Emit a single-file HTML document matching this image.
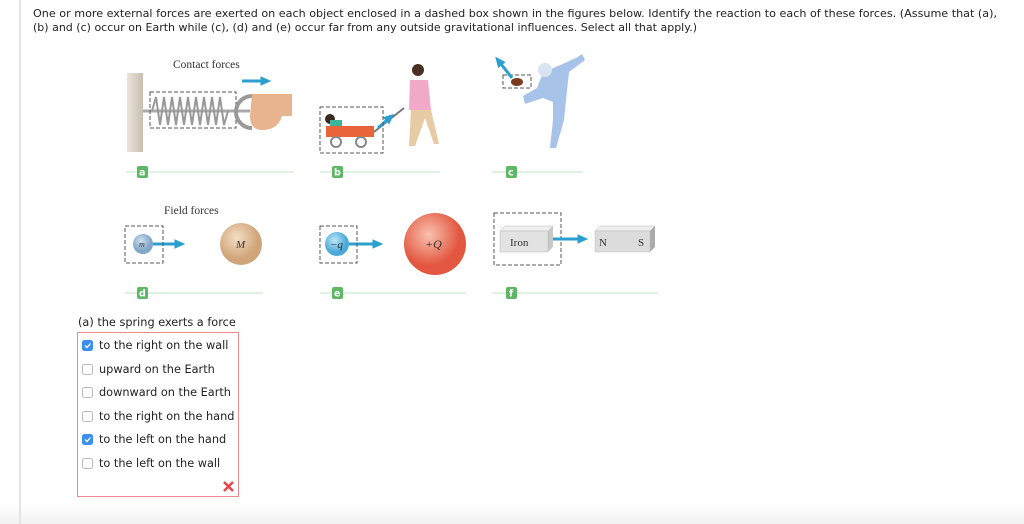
<!DOCTYPE html>
<html><head><meta charset="utf-8"><style>
html,body{margin:0;padding:0;background:#fff;width:1024px;height:524px;overflow:hidden}
svg{display:block}
.t{font-family:"DejaVu Sans","Liberation Sans",sans-serif;font-size:11px;fill:#222}
.q{font-size:11.3px}
.s{font-family:"Liberation Serif",serif;fill:#333}
.lab{font-family:"DejaVu Sans",sans-serif;font-size:9.5px;fill:#fff;font-weight:bold}
</style></head><body>
<svg width="1024" height="524" viewBox="0 0 1024 524" xmlns="http://www.w3.org/2000/svg">
<defs>
<marker id="ah" markerWidth="3.6" markerHeight="3.2" refX="0.5" refY="1.6" orient="auto" markerUnits="strokeWidth"><path d="M0,0 L3.6,1.6 L0,3.2 z" fill="#2a9fd0"/></marker>
<radialGradient id="gm" cx="40%" cy="35%"><stop offset="0" stop-color="#cfe0ee"/><stop offset="1" stop-color="#7fa6c8"/></radialGradient>
<radialGradient id="gM" cx="40%" cy="35%"><stop offset="0" stop-color="#f3dfc6"/><stop offset="1" stop-color="#d1a57a"/></radialGradient>
<radialGradient id="gq" cx="40%" cy="35%"><stop offset="0" stop-color="#bfe6f6"/><stop offset="1" stop-color="#4aa9d9"/></radialGradient>
<radialGradient id="gQ" cx="40%" cy="35%"><stop offset="0" stop-color="#f8c2b0"/><stop offset="1" stop-color="#e3563f"/></radialGradient>
<linearGradient id="gw" x1="0" x2="1"><stop offset="0" stop-color="#ece4da"/><stop offset="1" stop-color="#c8beb2"/></linearGradient>
<linearGradient id="gb" x1="0" y1="0" x2="0" y2="1"><stop offset="0" stop-color="#fff"/><stop offset="1" stop-color="#f1f1f1"/></linearGradient>
</defs>
<rect x="0" y="505" width="1024" height="19" fill="url(#gb)"/>
<rect x="19" y="0" width="2" height="524" fill="#e4e4e4"/>
<text class="t" x="33" y="17" textLength="964" lengthAdjust="spacingAndGlyphs">One or more external forces are exerted on each object enclosed in a dashed box shown in the figures below. Identify the reaction to each of these forces. (Assume that (a),</text>
<text class="t" x="33" y="31" textLength="664" lengthAdjust="spacingAndGlyphs">(b) and (c) occur on Earth while (c), (d) and (e) occur far from any outside gravitational influences. Select all that apply.)</text>

<text class="s" x="173" y="68" font-size="11.5">Contact forces</text>
<!-- a -->
<rect x="127" y="73" width="16" height="79" fill="url(#gw)"/>
<line x1="143" y1="111" x2="250" y2="111" stroke="#aaa" stroke-width="3"/>
<path d="M152,111 l4,-14 l4,28 l4,-28 l4,28 l4,-28 l4,28 l4,-28 l4,28 l4,-28 l4,28 l4,-28 l4,28 l4,-28 l4,28 l4,-28 l4,28 l4,-28 l4,28 l4,-14" fill="none" stroke="#999" stroke-width="2"/>
<rect x="150" y="92" width="86" height="36" fill="none" stroke="#555" stroke-dasharray="4,2"/>
<path d="M252,96 a16,16 0 0 0 0,32" fill="none" stroke="#999" stroke-width="4"/>
<path d="M252,94 h40 v22 h-10 q-4,14 -20,14 q-12,0 -12,-14 z" fill="#e8b48e"/>
<line x1="242" y1="81" x2="262" y2="81" stroke="#2a9fd0" stroke-width="3" marker-end="url(#ah)"/>
<line x1="126" y1="172" x2="294" y2="172" stroke="#bfe3c3"/>
<rect x="137" y="166" width="11" height="12" rx="2" fill="#5db764"/><text class="lab" x="139" y="175.5">a</text>
<!-- b -->
<rect x="326" y="126" width="48" height="11" fill="#e9643a"/>
<circle cx="336" cy="142" r="5" fill="#fff" stroke="#888" stroke-width="2"/>
<circle cx="361" cy="142" r="5" fill="#fff" stroke="#888" stroke-width="2"/>
<circle cx="330" cy="119" r="5" fill="#3a2a20"/><rect x="330" y="120" width="12" height="6" fill="#3db59a"/>
<line x1="374" y1="132" x2="404" y2="108" stroke="#777" stroke-width="2"/>
<line x1="378" y1="128" x2="387" y2="120" stroke="#2a9fd0" stroke-width="3" marker-end="url(#ah)"/>
<rect x="320" y="107" width="63" height="46" fill="none" stroke="#555" stroke-dasharray="4,2"/>
<circle cx="418" cy="70" r="6" fill="#4a3020"/>
<path d="M410,80 h18 l3,30 h-22 z" fill="#f0a9c6"/>
<path d="M411,110 h20 l8,34 h-5 l-9,-26 l-10,28 h-6 z" fill="#e7cba4"/>
<line x1="320" y1="172" x2="440" y2="172" stroke="#bfe3c3"/>
<rect x="332" y="166" width="11" height="12" rx="2" fill="#5db764"/><text class="lab" x="334" y="175.5">b</text>
<!-- c -->
<path d="M540,80 l4,-8 l14,-6 l18,-8 l6,-4 l3,6 l-16,12 l-3,28 l-2,20 l-8,28 h-6 l3,-28 l0,-18 l-10,-4 l-18,6 l-2,-8 l14,-8 z" fill="#a7c3ea"/>
<circle cx="545" cy="70" r="7" fill="#d8e4f2"/>
<ellipse cx="517" cy="82" rx="6" ry="4" fill="#7a3b1e"/>
<rect x="503" y="75" width="28" height="13" fill="none" stroke="#555" stroke-dasharray="4,2"/>
<line x1="512" y1="78" x2="501" y2="64" stroke="#2a9fd0" stroke-width="3" marker-end="url(#ah)"/>
<line x1="492" y1="172" x2="583" y2="172" stroke="#bfe3c3"/>
<rect x="506" y="166" width="11" height="12" rx="2" fill="#5db764"/><text class="lab" x="508" y="175.5">c</text>

<text class="s" x="164" y="214" font-size="11.5">Field forces</text>
<!-- d -->
<circle cx="143" cy="244" r="10" fill="url(#gm)"/><text class="s" x="139" y="247" font-size="8" font-style="italic">m</text>
<line x1="153" y1="244" x2="176" y2="244" stroke="#2a9fd0" stroke-width="3" marker-end="url(#ah)"/>
<rect x="125" y="226" width="38" height="37" fill="none" stroke="#555" stroke-dasharray="4,2"/>
<circle cx="241" cy="244" r="21" fill="url(#gM)"/><text class="s" x="236" y="248" font-size="11" font-style="italic">M</text>
<line x1="125" y1="293" x2="263" y2="293" stroke="#bfe3c3"/>
<rect x="137" y="287" width="11" height="12" rx="2" fill="#5db764"/><text class="lab" x="139" y="296.5">d</text>
<!-- e -->
<circle cx="337" cy="244" r="12" fill="url(#gq)"/><text class="s" x="330" y="248" font-size="11" font-style="italic">−q</text>
<line x1="349" y1="244" x2="374" y2="244" stroke="#2a9fd0" stroke-width="3" marker-end="url(#ah)"/>
<rect x="320" y="226" width="37" height="37" fill="none" stroke="#555" stroke-dasharray="4,2"/>
<circle cx="435" cy="244" r="31" fill="url(#gQ)"/><text class="s" x="425" y="248" font-size="12" font-style="italic">+Q</text>
<line x1="320" y1="293" x2="466" y2="293" stroke="#bfe3c3"/>
<rect x="332" y="287" width="11" height="12" rx="2" fill="#5db764"/><text class="lab" x="334" y="296.5">e</text>
<!-- f -->
<path d="M500,231 l5,-5 h48 l-5,5 z" fill="#f0f0f0" stroke="#bbb" stroke-width="0.5"/>
<path d="M548,231 l5,-5 v21 l-5,5 z" fill="#c8c8c8"/>
<rect x="500" y="231" width="48" height="21" fill="#e2e2e2" stroke="#bbb" stroke-width="0.5"/>
<text class="s" x="510" y="246" font-size="11">Iron</text>
<rect x="494" y="213" width="67" height="52" fill="none" stroke="#555" stroke-dasharray="4,2"/>
<line x1="553" y1="239" x2="579" y2="239" stroke="#2a9fd0" stroke-width="3" marker-end="url(#ah)"/>
<path d="M595,231 l5,-5 h55 l-5,5 z" fill="#eee" stroke="#bbb" stroke-width="0.5"/>
<path d="M650,231 l5,-5 v21 l-5,5 z" fill="#aaa"/>
<rect x="595" y="231" width="55" height="21" fill="#dcdcdc" stroke="#bbb" stroke-width="0.5"/>
<text class="s" x="599" y="246" font-size="11">N</text><text class="s" x="638" y="246" font-size="11">S</text>
<line x1="492" y1="293" x2="658" y2="293" stroke="#bfe3c3"/>
<rect x="506" y="287" width="11" height="12" rx="2" fill="#5db764"/><text class="lab" x="509" y="296.5">f</text>

<!-- question -->
<text class="t q" x="78" y="326">(a) the spring exerts a force</text>
<rect x="77.5" y="332.5" width="161" height="164" fill="#fff" stroke="#ec8a8f"/>
<g class="t q">
<rect x="82.5" y="340.5" width="10" height="10" rx="2" fill="#3b8ff0" stroke="#3b8ff0"/><path d="M85,345.5 l2,2 l3.5,-4" stroke="#fff" fill="none" stroke-width="1.3"/>
<text x="99" y="349">to the right on the wall</text>
<rect x="82.5" y="364.5" width="10" height="10" rx="2" fill="#fff" stroke="#bbb"/>
<text x="99" y="373">upward on the Earth</text>
<rect x="82.5" y="387.5" width="10" height="10" rx="2" fill="#fff" stroke="#bbb"/>
<text x="99" y="396">downward on the Earth</text>
<rect x="82.5" y="411.5" width="10" height="10" rx="2" fill="#fff" stroke="#bbb"/>
<text x="99" y="420">to the right on the hand</text>
<rect x="82.5" y="434.5" width="10" height="10" rx="2" fill="#3b8ff0" stroke="#3b8ff0"/><path d="M85,439.5 l2,2 l3.5,-4" stroke="#fff" fill="none" stroke-width="1.3"/>
<text x="99" y="443">to the left on the hand</text>
<rect x="82.5" y="458.5" width="10" height="10" rx="2" fill="#fff" stroke="#bbb"/>
<text x="99" y="467">to the left on the wall</text>
</g>
<path d="M224,482 l9,9 M233,482 l-9,9" stroke="#e8464e" stroke-width="2.5"/>
</svg>
</body></html>
